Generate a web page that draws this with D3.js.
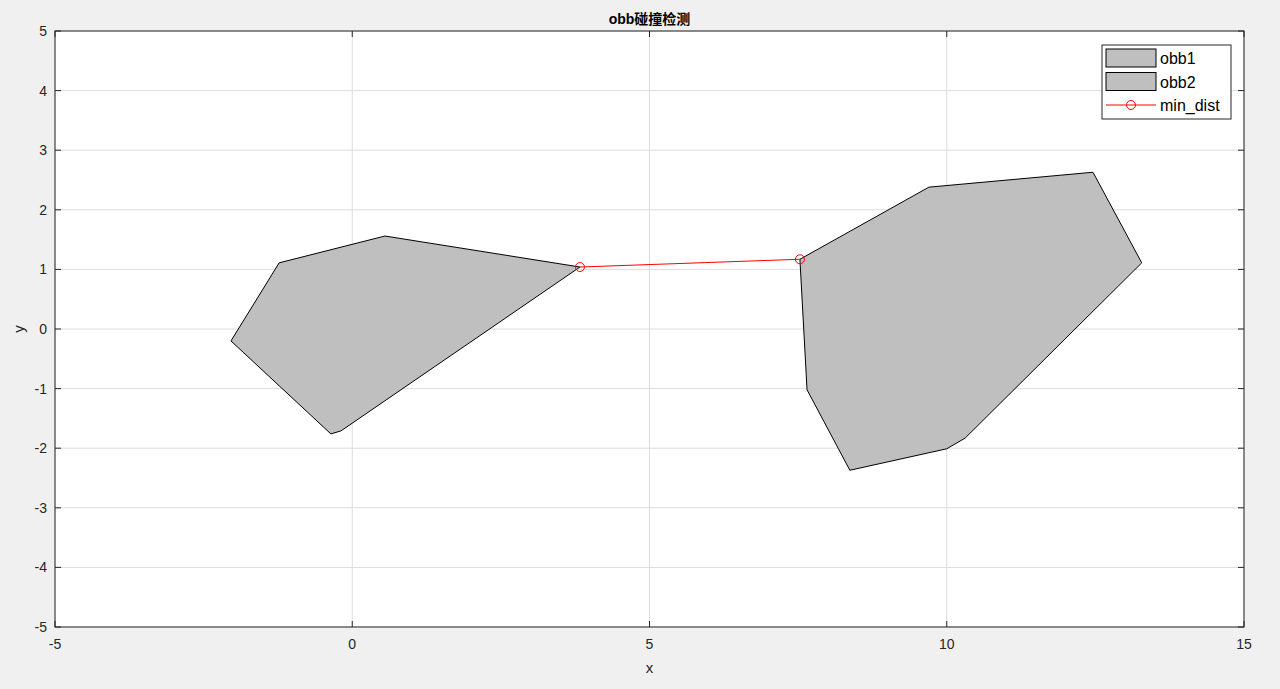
<!DOCTYPE html>
<html><head><meta charset="utf-8">
<script src="https://cdn.jsdelivr.net/npm/d3@7/dist/d3.min.js"></script>
<style>body{margin:0;background:#f0f0f0;font-family:Arial,"Liberation Sans","Noto Sans CJK SC",sans-serif}</style>
</head><body><svg id="c" width="1280" height="689"></svg>
<script>
const obb1 = [[-2.04,-0.20],[-1.23,1.11],[0.55,1.56],[3.83,1.04],[-0.19,-1.71],[-0.36,-1.76]];
const obb2 = [[7.53,1.17],[9.70,2.38],[12.46,2.63],[13.28,1.11],[10.31,-1.83],[10.00,-2.01],[8.37,-2.37],[7.65,-1.02]];
const minDist = [[3.83,1.04],[7.53,1.17]];
const xTicks = [-5,0,5,10,15];
const yTicks = [-5,-4,-3,-2,-1,0,1,2,3,4,5];

const svg = d3.select('#c');
const L=55,R=1244,T=31,B=627;
const x = d3.scaleLinear().domain([-5,15]).range([L,R]);
const y = d3.scaleLinear().domain([-5,5]).range([B,T]);
svg.append('rect').attr('x',L).attr('y',T).attr('width',R-L).attr('height',B-T).attr('fill','#fff');
const g = svg.append('g');
xTicks.forEach(t=>g.append('line').attr('x1',x(t)).attr('x2',x(t)).attr('y1',T).attr('y2',B).attr('stroke','#dcdcdc'));
yTicks.forEach(t=>g.append('line').attr('y1',y(t)).attr('y2',y(t)).attr('x1',L).attr('x2',R).attr('stroke','#dcdcdc'));
const line = d3.line().x(d=>x(d[0])).y(d=>y(d[1]));
[obb1,obb2].forEach(p=>svg.append('path').attr('d',line(p)+'Z').attr('fill','#bfbfbf').attr('stroke','#000').attr('stroke-width',1));
svg.append('path').attr('d',line(minDist)).attr('stroke','#ff0000').attr('fill','none');
minDist.forEach(d=>svg.append('circle').attr('cx',x(d[0])).attr('cy',y(d[1])).attr('r',4.5).attr('fill','none').attr('stroke','#ff0000'));
// axes box with ticks on all sides
svg.append('rect').attr('x',L).attr('y',T).attr('width',R-L).attr('height',B-T).attr('fill','none').attr('stroke','#262626');
xTicks.forEach(t=>{
  svg.append('line').attr('x1',x(t)).attr('x2',x(t)).attr('y1',B).attr('y2',B-6).attr('stroke','#262626');
  svg.append('line').attr('x1',x(t)).attr('x2',x(t)).attr('y1',T).attr('y2',T+6).attr('stroke','#262626');
  svg.append('text').attr('x',x(t)).attr('y',B+22).attr('text-anchor','middle').attr('font-size',14).attr('fill','#262626').text(t);
});
yTicks.forEach(t=>{
  svg.append('line').attr('y1',y(t)).attr('y2',y(t)).attr('x1',L).attr('x2',L+6).attr('stroke','#262626');
  svg.append('line').attr('y1',y(t)).attr('y2',y(t)).attr('x1',R).attr('x2',R-6).attr('stroke','#262626');
  svg.append('text').attr('x',L-8).attr('y',y(t)+5).attr('text-anchor','end').attr('font-size',14).attr('fill','#262626').text(t);
});
svg.append('text').attr('x',(L+R)/2).attr('y',673).attr('text-anchor','middle').attr('font-size',15).attr('fill','#262626').text('x');
svg.append('text').attr('transform',`translate(24,${(T+B)/2}) rotate(-90)`).attr('text-anchor','middle').attr('font-size',15).attr('fill','#262626').text('y');
svg.append('text').attr('x',(L+R)/2).attr('y',24).attr('text-anchor','middle').attr('font-size',14).attr('font-weight','bold').attr('fill','#000').text('obb碰撞检测');
// legend
const lg = svg.append('g').attr('transform','translate(1102,45)');
lg.append('rect').attr('width',129).attr('height',74).attr('fill','#fff').attr('stroke','#262626');
const items=['obb1','obb2','min_dist'];
items.forEach((s,i)=>{
  const cy=13+i*23.5;
  if(i<2) lg.append('rect').attr('x',4).attr('y',cy-9).attr('width',50).attr('height',18).attr('fill','#bfbfbf').attr('stroke','#000');
  else {
    lg.append('line').attr('x1',4).attr('x2',54).attr('y1',cy).attr('y2',cy).attr('stroke','#f00');
    lg.append('circle').attr('cx',29).attr('cy',cy).attr('r',4.5).attr('fill','none').attr('stroke','#f00');
  }
  lg.append('text').attr('x',58).attr('y',cy+6).attr('font-size',16).attr('fill','#000').text(s);
});
</script></body></html>
